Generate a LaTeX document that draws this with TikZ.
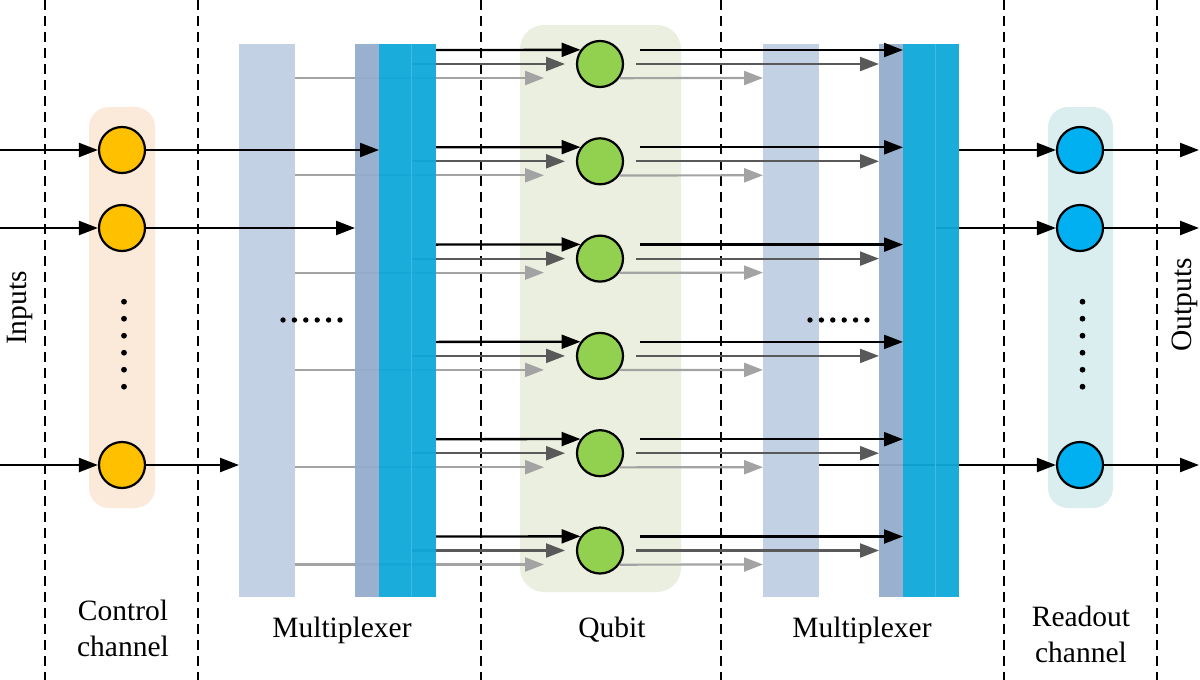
\documentclass[tikz,border=0pt]{standalone}
\usepackage{fontspec}
\setmainfont{Liberation Serif}
\usetikzlibrary{arrows.meta}
\definecolor{ctrlbg}{HTML}{FBE9DA}
\definecolor{qbbg}{HTML}{EBEFDF}
\definecolor{robg}{HTML}{DAEEF0}
\definecolor{orangec}{HTML}{FFC000}
\definecolor{greenc}{HTML}{92D050}
\definecolor{bluec}{HTML}{00B0F0}
\definecolor{pLight}{HTML}{C2D1E4}
\definecolor{pDark}{HTML}{94ADCC}
\definecolor{pCyan}{HTML}{0EA8DA}
\definecolor{pDiv}{HTML}{3DBBE3}
\definecolor{dgray}{HTML}{595959}
\definecolor{lgray}{HTML}{A3A3A3}
\begin{document}
\begin{tikzpicture}[x=1pt,y=-1pt,
  arr/.style={-{Triangle[length=19pt,width=14pt]}},
  blk/.style={draw=black,line width=2.3pt},
  dg/.style={draw=dgray,line width=2.2pt},
  lg/.style={draw=lgray,line width=2.2pt},
  vsep/.style={draw=black,line width=2pt,dash pattern=on 10pt off 6pt},
  band/.style={rounded corners=20pt,inner sep=0,outer sep=0,draw=none},
  panel/.style={inner sep=0,outer sep=0,draw=none,minimum height=553pt},
  ball/.style={circle,draw=black,line width=2.2pt,minimum size=46pt,inner sep=0},
  lbl/.style={font=\fontsize{29.5}{36}\selectfont,align=center,inner sep=0},
]
\useasboundingbox (0,0) rectangle (1200,680);
\fill[white] (0,0) rectangle (1200,680);

% dashed separators
\foreach \n/\x in {1/45,2/197.5,3/480.5,4/721,5/1003.5,6/1157}{
  \coordinate (vt\n) at (\x,0);
  \coordinate (vb\n) at (\x,680);
  \draw[vsep] (vt\n) -- (vb\n);
}

% background bands
\node[band,fill=ctrlbg,minimum width=66pt,minimum height=401pt] (cbg) at (122,307.5) {};
\node[band,fill=qbbg,minimum width=161pt,minimum height=567pt,rounded corners=24pt] (qbg) at (600.5,308.5) {};
\node[band,fill=robg,minimum width=65pt,minimum height=401pt] (rbg) at (1080.5,307.5) {};

% light panels
\node[panel,fill=pLight,minimum width=56pt] (m1L) at (267,320.5) {};
\node[panel,fill=pLight,minimum width=56pt] (m2L) at (791,320.5) {};

% qubits and row coordinates
\foreach \i/\y in {1/64,2/161.3,3/258.6,4/355.9,5/453.2,6/550.5}{
  \node[ball,fill=greenc] (q\i) at (600,\y) {};
  \coordinate (la\i) at (436,\y-14);
  \coordinate (lb\i) at (411.5,\y);
  \coordinate (lbE\i) at (565,\y);
  \coordinate (lc\i) at (295,\y+14);
  \coordinate (lcE\i) at (544,\y+14);
  \coordinate (ra\i) at (640,\y-14);
  \coordinate (raE\i) at (903,\y-14);
  \coordinate (rb\i) at (636,\y);
  \coordinate (rcE\i) at (763,\y+14);
}

% control and readout circles
\foreach \i/\y in {1/150,2/228,3/465}{
  \node[ball,fill=orangec] (c\i) at (122,\y) {};
  \node[ball,fill=bluec] (r\i) at (1080,\y) {};
  \coordinate (in\i) at (0,\y);
  \coordinate (out\i) at (1199,\y);
}

% gray lines behind the first multiplexer
\foreach \i in {1,...,6}{
  \draw[lg,arr] (lc\i) -- (lcE\i);
  \draw[dg,arr] (lb\i) -- (lbE\i);
}
% readout lines behind the second multiplexer
\coordinate (d2) at (935,0);
\draw[blk,arr] (m2L.east |- r3) -- (r3);
\draw[blk,arr] (d2 |- r2) -- (r2);

% dark strips and cyan blocks
\node[panel,fill=pDark,fill opacity=0.95,minimum width=24pt] (m1D) at (367,320.5) {};
\node[panel,fill=pCyan,fill opacity=0.95,minimum width=57pt] (m1C) at (407.5,320.5) {};
\node[panel,fill=pDark,fill opacity=0.95,minimum width=24pt] (m2D) at (891,320.5) {};
\node[panel,fill=pCyan,fill opacity=0.95,minimum width=56pt] (m2C) at (931,320.5) {};
\draw[pDiv,line width=0.8pt] (411.5,44) -- (411.5,597);
\draw[pDiv,line width=0.8pt] (935,44) -- (935,597);

% qubit connectors
\foreach \i in {1,...,6}{
  \draw[blk,arr] (la\i) -- (q\i.144);
  \draw[blk,arr] (ra\i) -- (raE\i);
  \draw[dg,arr] (rb\i) -- (m2D.west |- q\i);
  \draw[lg,arr] (q\i.-36) -- (rcE\i);
}

% control and readout connectors
\foreach \i in {1,2,3}{
  \draw[blk,arr] (in\i) -- (c\i);
  \draw[blk,arr] (r\i) -- (out\i);
}
\draw[blk,arr] (c1) -- (m1C.west |- c1);
\draw[blk,arr] (c2) -- (m1D.west |- c2);
\draw[blk,arr] (c3) -- (m1L.west |- c3);
\draw[blk,arr] (m2C.east |- r1) -- (r1);

% dots
\foreach \k in {0,...,5}{
  \fill (124,301.7+17*\k) circle[radius=2.9pt];
  \fill (1082.5,301.7+17*\k) circle[radius=2.9pt];
  \fill (283+11.4*\k,320) circle[radius=2.7pt];
  \fill (810+11.4*\k,320) circle[radius=2.7pt];
}

% labels
\node[lbl,rotate=90] (inl) at (20,308) {Inputs};
\node[lbl,rotate=90] (outl) at (1185,305) {Outputs};
\node[lbl] (lc) at (123,628) {Control\\channel};
\node[lbl] (lm1) at (342,630) {Multiplexer};
\node[lbl] (lq) at (612,630) {Qubit};
\node[lbl] (lm2) at (862,630) {Multiplexer};
\node[lbl] (lr) at (1081,634) {Readout\\channel};
\end{tikzpicture}
\end{document}
